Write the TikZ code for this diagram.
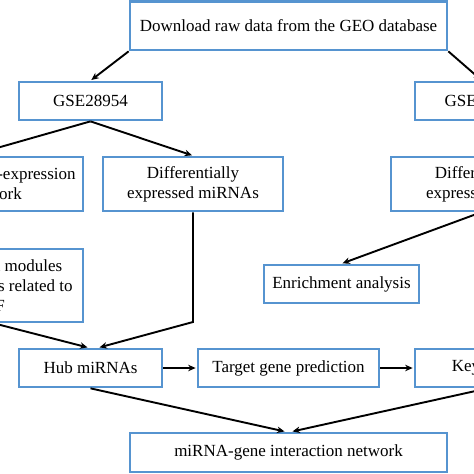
\documentclass[tikz,border=0pt]{standalone}
\usepackage{fontspec}
\setmainfont{Liberation Serif}
\usetikzlibrary{arrows.meta,positioning}
\definecolor{boxblue}{RGB}{86,148,208}

\begin{document}
\begin{tikzpicture}[x=1pt, y=-1pt,
    flowbox/.style={rectangle, draw=boxblue, line width=2.7pt, fill=white,
        align=center, inner sep=0pt, font=\fontsize{17}{20}\selectfont},
    arr/.style={-{Stealth[length=7.5pt,width=6.5pt]}, line width=1.9pt, shorten >=1pt}
]
    \useasboundingbox (0,0) rectangle (474,474);
    \clip (0,0) rectangle (474,474);

    % Download step
    \node[flowbox, minimum width=317pt, minimum height=48.5pt] (geo) at (288.5,25.75) {Download raw data from the GEO database};

    % miRNA branch
    \node[flowbox, minimum width=143pt, minimum height=38pt] (gsemir) at (90.5,101) {GSE28954};
    \node[flowbox, minimum width=178pt, minimum height=54pt] (coexp) at (-6,184) {Weighted co-expression\\network};
    \node[flowbox, minimum width=180pt, minimum height=54pt] (demir) at (193,184) {Differentially\\expressed miRNAs};
    \node[flowbox, minimum width=178pt, minimum height=73pt] (keymod) at (-6,285.5) {Significant modules\\and miRNAs related to\\AF};
    \coordinate (bend) at (193,322);

    % gene branch
    \node[flowbox, minimum width=134pt, minimum height=38pt] (gsegene) at (482,101) {GSE79768};
    \node[flowbox, minimum width=180pt, minimum height=54pt] (degene) at (481,184) {Differentially\\expressed genes};
    \node[flowbox, minimum width=155pt, minimum height=38pt] (enrich) at (341.5,284) {Enrichment analysis};

    % prediction row
    \node[flowbox, minimum width=143pt, minimum height=38pt] (hub) at (90.5,368) {Hub miRNAs};
    \node[flowbox, minimum width=181pt, minimum height=38pt] (target) at (288.5,368) {Target gene prediction};
    \node[flowbox, minimum width=145pt, minimum height=38pt] (key) at (487.5,368) {Key genes};
    \node[flowbox, minimum width=317pt, minimum height=39pt] (net) at (288.5,452.5) {miRNA-gene interaction network};

    \draw[arr] (geo.south west) -- (gsemir.north);
    \draw[arr] (geo.south east) -- (gsegene.north);
    \draw[arr] (gsemir.south) -- ([xshift=-24pt]coexp.north);
    \draw[arr] (gsemir.south) -- (demir.north);
    \draw[arr] (degene.south) -- (enrich.north);
    \draw[arr] (keymod.south) -- ([xshift=-2pt]hub.north);
    \draw[arr] (demir.south) -- (bend) -- ([xshift=8pt]hub.north);
    \draw[arr] (hub.east) -- (target.west);
    \draw[arr] (target.east) -- (key.west);
    \draw[arr] (hub.south) -- ([xshift=-3pt]net.north);
    \draw[arr] (key.south) -- ([xshift=3pt]net.north);
\end{tikzpicture}
\end{document}
